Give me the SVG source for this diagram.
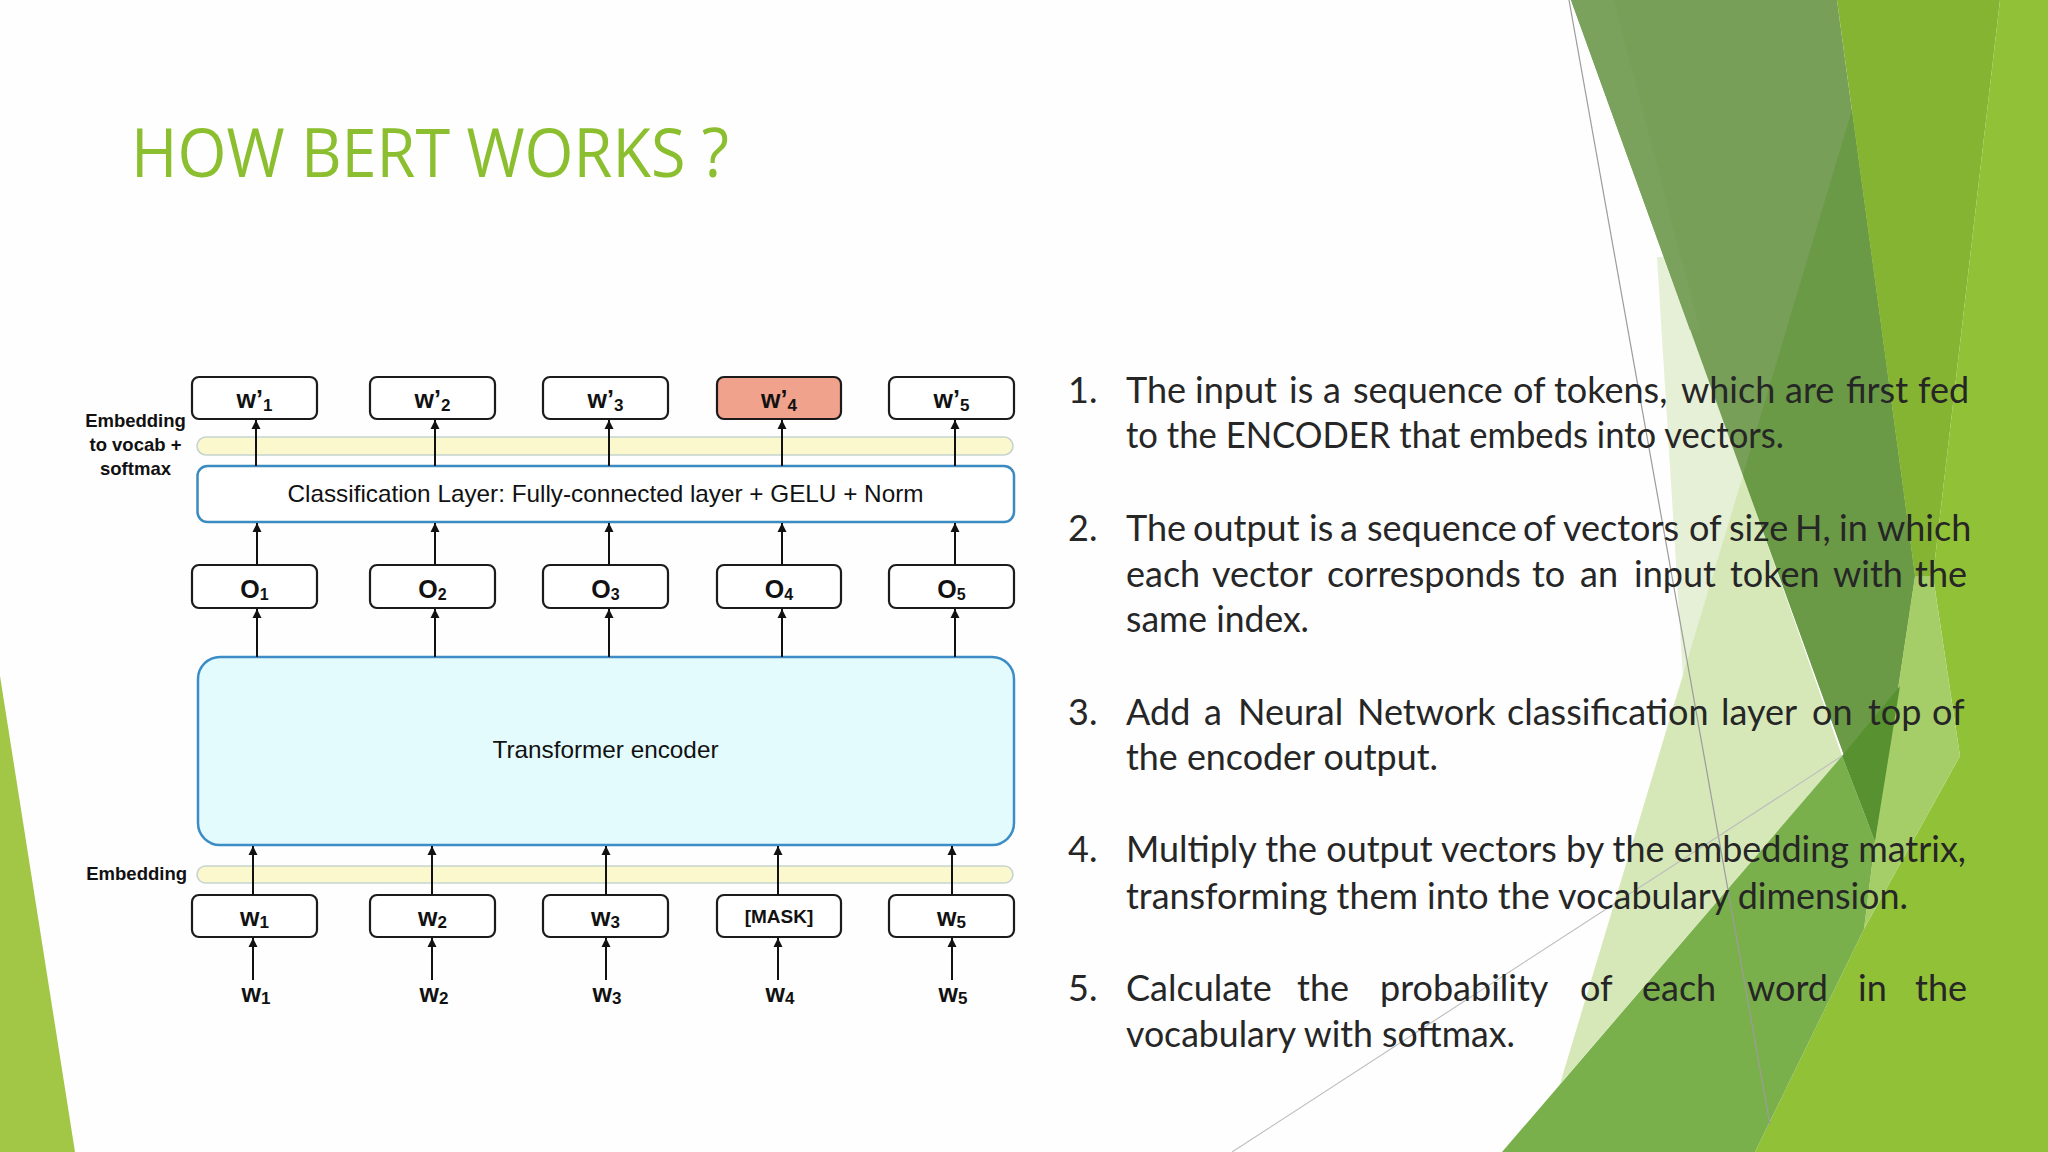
<svg xmlns="http://www.w3.org/2000/svg" width="2048" height="1152" viewBox="0 0 2048 1152">
<defs>
<marker id="ah" viewBox="0 0 10 10" refX="10" refY="5" markerWidth="9" markerHeight="10" markerUnits="userSpaceOnUse" orient="auto"><path d="M0,0 L10,5 L0,10 z" fill="#111"/></marker>
</defs>
<style>
.box{fill:#fff;stroke:#1b1b1b;stroke-width:2.2}
.lbl{font-family:"Liberation Sans",Arial,sans-serif;font-weight:bold;font-size:25px;fill:#111;text-anchor:middle}
.sub{font-size:17px}
.osub{font-size:16px}
.mask{font-size:19px}
.side{font-family:"Liberation Sans",Arial,sans-serif;font-weight:bold;font-size:18.5px;fill:#111}
.bar{fill:#FAF8CC;stroke:#C6D4D0;stroke-width:1.6}
.big{font-family:"Liberation Sans",Arial,sans-serif;font-size:24px;fill:#111;text-anchor:middle}
.body{font-family:Lato,"Open Sans",sans-serif;font-size:36px;fill:#262626}
#connectors line{stroke:#111;stroke-width:2;marker-end:url(#ah)}
</style>
<rect width="2048" height="1152" fill="#FEFEFE"/>
<g id="decor">
<polygon points="0,676 75,1152 0,1152" fill="#A2C646"/>
<polygon points="1657,257 1664,257 1743,475 1684,693" fill="#E6F0D6"/>
<polygon points="1743,475 1842,756 1560,1084" fill="#D6E8B8"/>
<polygon points="1571,0 1837,0 1915,576 1875,841" fill="#779F58"/>
<polygon points="1571,0 1614,0 1700,330 1690,330" fill="#7BA25C"/>
<polygon points="1852,110 1915,576 1875,841 1743,475" fill="#6A9A46"/>
<polygon points="1837,0 2000,0 1933,576 1915,576" fill="#84B431"/>
<polygon points="2000,0 2048,0 2048,1152 1755,1152 1864,929 1960,756 1933,576" fill="#91C137"/>
<polygon points="1915,576 1933,576 1960,756 1864,929 1875,841" fill="#A6CE68"/>
<polygon points="1502,1152 1842,756 1875,841 1864,929 1755,1152" fill="#7AB04B"/>
<polygon points="1842,756 1900,686 1875,841" fill="#58912F"/>
<line x1="1569" y1="0" x2="1770" y2="1125" stroke="#9C9C9C" stroke-width="1.2"/>
<line x1="1232" y1="1152" x2="1842" y2="756" stroke="#BDBDBD" stroke-width="1.1"/>
</g>
<text id="title" x="131" y="177" font-family="'Open Sans',sans-serif" font-size="68" fill="#8CBF2F" textLength="598" lengthAdjust="spacingAndGlyphs">HOW BERT WORKS ?</text>

<g id="label-embed-vocab">
<text class="side" x="135.5" y="427" text-anchor="middle">Embedding</text>
<text class="side" x="135.5" y="451" text-anchor="middle">to vocab +</text>
<text class="side" x="135.5" y="475" text-anchor="middle">softmax</text>
</g>
<g id="label-embed"><text class="side" x="187" y="880" text-anchor="end">Embedding</text></g>

<g id="bar-top"><rect class="bar" x="197" y="437" width="816" height="18" rx="9"/></g>
<g id="bar-bottom"><rect class="bar" x="197" y="866" width="816" height="17" rx="8.5"/></g>

<g id="classification-layer">
<rect x="197.5" y="466" width="816.5" height="56" rx="10" fill="#fff" stroke="#3B8AC0" stroke-width="2.5"/>
<text class="big" x="605.5" y="502" textLength="636" lengthAdjust="spacingAndGlyphs">Classification Layer: Fully-connected layer + GELU + Norm</text>
</g>
<g id="transformer-encoder">
<rect x="198" y="657" width="816" height="188" rx="22" fill="#E4FBFE" stroke="#3C8DC5" stroke-width="2.5"/>
<text class="big" x="605.5" y="758" textLength="226" lengthAdjust="spacingAndGlyphs">Transformer encoder</text>
</g>

<g id="out-w1"><rect class="box" x="192" y="377" width="125" height="42" rx="7"/><text class="lbl" x="254.5" y="408">w’<tspan class="sub" dy="3">1</tspan></text></g>
<g id="out-w2"><rect class="box" x="370" y="377" width="125" height="42" rx="7"/><text class="lbl" x="432.5" y="408">w’<tspan class="sub" dy="3">2</tspan></text></g>
<g id="out-w3"><rect class="box" x="543" y="377" width="125" height="42" rx="7"/><text class="lbl" x="605.5" y="408">w’<tspan class="sub" dy="3">3</tspan></text></g>
<g id="out-w4"><rect class="box" x="717" y="377" width="124" height="42" rx="7" style="fill:#F1A28D"/><text class="lbl" x="779" y="408">w’<tspan class="sub" dy="3">4</tspan></text></g>
<g id="out-w5"><rect class="box" x="889" y="377" width="125" height="42" rx="7"/><text class="lbl" x="951.5" y="408">w’<tspan class="sub" dy="3">5</tspan></text></g>

<g id="o1"><rect class="box" x="192" y="565" width="125" height="43" rx="7"/><text class="lbl" x="254.5" y="598">O<tspan class="osub" dy="2">1</tspan></text></g>
<g id="o2"><rect class="box" x="370" y="565" width="125" height="43" rx="7"/><text class="lbl" x="432.5" y="598">O<tspan class="osub" dy="2">2</tspan></text></g>
<g id="o3"><rect class="box" x="543" y="565" width="125" height="43" rx="7"/><text class="lbl" x="605.5" y="598">O<tspan class="osub" dy="2">3</tspan></text></g>
<g id="o4"><rect class="box" x="717" y="565" width="124" height="43" rx="7"/><text class="lbl" x="779" y="598">O<tspan class="osub" dy="2">4</tspan></text></g>
<g id="o5"><rect class="box" x="889" y="565" width="125" height="43" rx="7"/><text class="lbl" x="951.5" y="598">O<tspan class="osub" dy="2">5</tspan></text></g>

<g id="in-w1"><rect class="box" x="192" y="895" width="125" height="42" rx="7"/><text class="lbl" x="254.5" y="926">w<tspan class="sub" dy="2">1</tspan></text></g>
<g id="in-w2"><rect class="box" x="370" y="895" width="125" height="42" rx="7"/><text class="lbl" x="432.5" y="926">w<tspan class="sub" dy="2">2</tspan></text></g>
<g id="in-w3"><rect class="box" x="543" y="895" width="125" height="42" rx="7"/><text class="lbl" x="605.5" y="926">w<tspan class="sub" dy="2">3</tspan></text></g>
<g id="in-mask"><rect class="box" x="717" y="895" width="124" height="42" rx="7"/><text class="lbl mask" x="779" y="923">[MASK]</text></g>
<g id="in-w5"><rect class="box" x="889" y="895" width="125" height="42" rx="7"/><text class="lbl" x="951.5" y="926">w<tspan class="sub" dy="2">5</tspan></text></g>

<g id="tok-w1"><text class="lbl" x="256" y="1002">w<tspan class="sub" dy="2">1</tspan></text></g>
<g id="tok-w2"><text class="lbl" x="434" y="1002">w<tspan class="sub" dy="2">2</tspan></text></g>
<g id="tok-w3"><text class="lbl" x="607" y="1002">w<tspan class="sub" dy="2">3</tspan></text></g>
<g id="tok-w4"><text class="lbl" x="780" y="1002">w<tspan class="sub" dy="2">4</tspan></text></g>
<g id="tok-w5"><text class="lbl" x="953" y="1002">w<tspan class="sub" dy="2">5</tspan></text></g>

<g id="connectors">
<line x1="256" y1="466" x2="256" y2="420"/>
<line x1="435" y1="466" x2="435" y2="420"/>
<line x1="609" y1="466" x2="609" y2="420"/>
<line x1="782" y1="466" x2="782" y2="420"/>
<line x1="955" y1="466" x2="955" y2="420"/>
<line x1="257" y1="565" x2="257" y2="523"/>
<line x1="435" y1="565" x2="435" y2="523"/>
<line x1="609" y1="565" x2="609" y2="523"/>
<line x1="782" y1="565" x2="782" y2="523"/>
<line x1="955" y1="565" x2="955" y2="523"/>
<line x1="257" y1="657" x2="257" y2="609"/>
<line x1="435" y1="657" x2="435" y2="609"/>
<line x1="609" y1="657" x2="609" y2="609"/>
<line x1="782" y1="657" x2="782" y2="609"/>
<line x1="955" y1="657" x2="955" y2="609"/>
<line x1="253" y1="895" x2="253" y2="846"/>
<line x1="432" y1="895" x2="432" y2="846"/>
<line x1="606" y1="895" x2="606" y2="846"/>
<line x1="778" y1="895" x2="778" y2="846"/>
<line x1="952" y1="895" x2="952" y2="846"/>
<line x1="253" y1="980" x2="253" y2="938"/>
<line x1="432" y1="980" x2="432" y2="938"/>
<line x1="606" y1="980" x2="606" y2="938"/>
<line x1="778" y1="980" x2="778" y2="938"/>
<line x1="952" y1="980" x2="952" y2="938"/>
</g>

<g id="list">
<text class="body" x="1068" y="403">1.</text>
<text class="body" y="403"><tspan x="1126">The</tspan> <tspan x="1195">input</tspan> <tspan x="1289">is</tspan> <tspan x="1323">a</tspan> <tspan x="1353">sequence</tspan> <tspan x="1513">of</tspan> <tspan x="1554">tokens,</tspan> <tspan x="1681">which</tspan> <tspan x="1785">are</tspan> <tspan x="1846">first</tspan> <tspan x="1918">fed</tspan></text>
<text class="body" x="1126" y="448" textLength="658" lengthAdjust="spacingAndGlyphs">to the ENCODER that embeds into vectors.</text>

<text class="body" x="1068" y="541">2.</text>
<text class="body" y="541"><tspan x="1126">The</tspan> <tspan x="1193">output</tspan> <tspan x="1309">is</tspan> <tspan x="1340">a</tspan> <tspan x="1367">sequence</tspan> <tspan x="1523">of</tspan> <tspan x="1563">vectors</tspan> <tspan x="1689">of</tspan> <tspan x="1729">size</tspan> <tspan x="1795">H,</tspan> <tspan x="1839">in</tspan> <tspan x="1877">which</tspan></text>
<text class="body" y="587"><tspan x="1126">each</tspan> <tspan x="1212">vector</tspan> <tspan x="1327">corresponds</tspan> <tspan x="1532">to</tspan> <tspan x="1580">an</tspan> <tspan x="1634">input</tspan> <tspan x="1730">token</tspan> <tspan x="1833">with</tspan> <tspan x="1915">the</tspan></text>
<text class="body" x="1126" y="632" textLength="183" lengthAdjust="spacingAndGlyphs">same index.</text>

<text class="body" x="1068" y="725">3.</text>
<text class="body" y="725"><tspan x="1126">Add</tspan> <tspan x="1204">a</tspan> <tspan x="1238">Neural</tspan> <tspan x="1357">Network</tspan> <tspan x="1507">classification</tspan> <tspan x="1721">layer</tspan> <tspan x="1812">on</tspan> <tspan x="1868">top</tspan> <tspan x="1932">of</tspan></text>
<text class="body" x="1126" y="770" textLength="312" lengthAdjust="spacingAndGlyphs">the encoder output.</text>

<text class="body" x="1068" y="862">4.</text>
<text class="body" x="1126" y="862" textLength="840" lengthAdjust="spacingAndGlyphs">Multiply the output vectors by the embedding matrix,</text>
<text class="body" x="1126" y="909" textLength="782" lengthAdjust="spacingAndGlyphs">transforming them into the vocabulary dimension.</text>

<text class="body" x="1068" y="1001">5.</text>
<text class="body" y="1001"><tspan x="1126">Calculate</tspan> <tspan x="1297">the</tspan> <tspan x="1380">probability</tspan> <tspan x="1580">of</tspan> <tspan x="1642">each</tspan> <tspan x="1747">word</tspan> <tspan x="1858">in</tspan> <tspan x="1915">the</tspan></text>
<text class="body" x="1126" y="1047" textLength="389" lengthAdjust="spacingAndGlyphs">vocabulary with softmax.</text>
</g>
</svg>
